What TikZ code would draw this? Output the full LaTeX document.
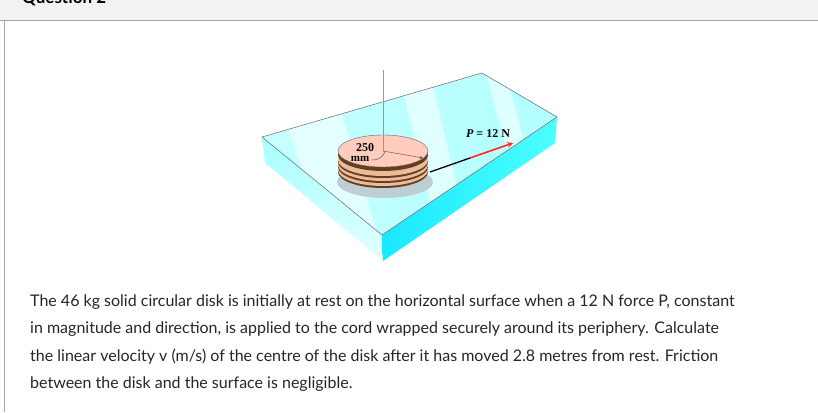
\documentclass[tikz,border=0pt]{standalone}
\usepackage{fontspec}
\setmainfont{Lato}
\newfontfamily\figfont{Liberation Serif}
\begin{document}
\begin{tikzpicture}[x=1pt,y=-1pt,
  para/.style={anchor=base west,font=\fontsize{16}{16}\selectfont,text=black!85,inner sep=0},
  lbl/.style={font=\figfont\fontsize{12}{12}\selectfont\bfseries,inner sep=0}]
\useasboundingbox (0,0) rectangle (818,412);
\fill[white] (0,0) rectangle (818,412);
\fill[black!5] (0,0) rectangle (818,20);
\draw[black!35] (0,20.5) -- (818,20.5);
\draw[black!35] (4,20) -- (4,412);
\begin{scope}
\clip (0,0) rectangle (818,20);
\node[anchor=base west,font=\bfseries\fontsize{17}{17}\selectfont,inner sep=0] (q) at (22,4) {Question 2};
\end{scope}
% slab
\coordinate (L) at (262,137); \coordinate (T) at (482,73);
\coordinate (R) at (557,117); \coordinate (F) at (382,235);
\shade[top color=cyan!35, bottom color=cyan!10] (L) -- (F) -- (383,261) -- (265,163) -- cycle;
\shade[left color=cyan!90!blue!90, right color=cyan!70] (F) -- (R) -- (555,143) -- (383,261) -- cycle;
\begin{scope}
\clip (L) -- (T) -- (R) -- (F) -- cycle;
\shade[left color=cyan!22, right color=cyan!30] (L) -- (T) -- (R) -- (F) -- cycle;
\fill[white,opacity=0.55] (280,100) -- (335,90) -- (385,260) -- (330,260) -- cycle;
\fill[white,opacity=0.55] (400,80) -- (430,75) -- (470,240) -- (440,240) -- cycle;
\fill[white,opacity=0.55] (485,70) -- (505,70) -- (540,200) -- (520,200) -- cycle;
\end{scope}
\draw[black!60,line width=0.5] (L) -- (T) -- (R) -- (F) -- cycle;
% disk
\fill[cyan!40!black!30] (385,182) ellipse (48 and 16);
\foreach \y in {170,165,160}{
 \fill[brown!50!black] (383,\y+2) ellipse (45 and 16);
 \fill[orange!25!pink!60!brown!70] (383,\y) ellipse (45 and 16);}
\fill[brown!50!black] (383,155) ellipse (45 and 16);
\fill[orange!15!pink!70!white] (383,151) ellipse (45 and 16);
\draw[black!60,line width=0.4] (383,151) ellipse (45 and 16);
\draw[black!40] (383,70) -- (383,151);
\draw[black!70,line width=0.4,-stealth] (383,151) -- (423,158);
\draw[black!70,line width=0.4] (371,160) to[bend right=35] (385,152);
\coordinate (c1) at (430,172); \coordinate (c2) at (470,158);
\draw[black,line width=1.3] (c1) -- (c2);
\draw[red!80!pink,line width=1.6,-stealth] (c2) -- (513,143);
\node[lbl] (p) at (488,134) {\itshape P\upshape\ = 12 N};
\node[lbl] (a) at (365,148) {250};
\node[lbl,font=\figfont\fontsize{11}{11}\selectfont\bfseries] (b) at (360,159) {mm};
% text
\node[para] (t1) at (30,306) {The 46 kg solid circular disk is initially at rest on the horizontal surface when a 12 N force P, constant};
\node[para] (t2) at (30,333) {in magnitude and direction, is applied to the cord wrapped securely around its periphery. Calculate};
\node[para] (t3) at (30,361) {the linear velocity v (m/s) of the centre of the disk after it has moved 2.8 metres from rest. Friction};
\node[para] (t4) at (30,388) {between the disk and the surface is negligible.};
\end{tikzpicture}
\end{document}
